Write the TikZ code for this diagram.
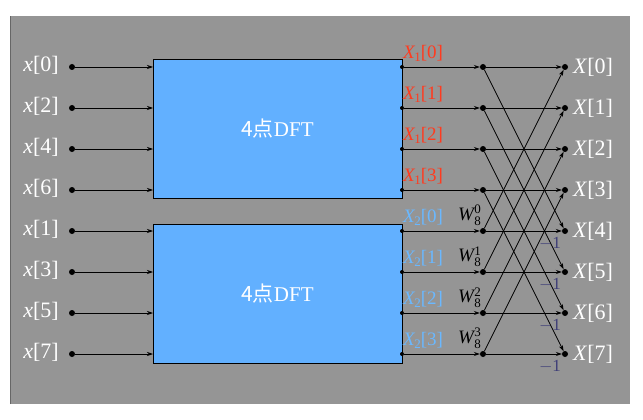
\documentclass[tikz,border=0pt]{standalone}
\usepackage{fontspec}
\setmainfont{Liberation Serif}
\newfontfamily\cjk{Noto Sans CJK SC}
\usetikzlibrary{arrows.meta}
\definecolor{bg}{HTML}{959595}
\definecolor{boxc}{HTML}{62B0FF}
\definecolor{redl}{HTML}{FF3B1F}
\definecolor{bluel}{HTML}{6AB8FF}
\definecolor{negc}{HTML}{3F3F78}
\tikzset{
 dot/.style={circle,fill=black,inner sep=0pt,minimum size=6pt},
 arr/.style={-{Stealth[length=6pt,width=4pt]},line width=0.7pt},
 dft/.style={draw=black,fill=boxc,line width=0.7pt,text=white,font=\fontsize{21}{21}\selectfont},
 inl/.style={text=white,font=\fontsize{22}{22}\selectfont,anchor=east,inner sep=1pt},
 outl/.style={text=white,font=\fontsize{22}{22}\selectfont,anchor=west,inner sep=1pt},
 midl/.style={font=\fontsize{19}{19}\selectfont,anchor=south west,inner sep=1pt},
 wl/.style={font=\fontsize{19}{19}\selectfont,anchor=south east,inner sep=0pt},
 negl/.style={text=negc,font=\fontsize{17}{17}\selectfont},
}
\begin{document}
\begin{tikzpicture}[x=1pt,y=-1pt]
\useasboundingbox (0,0) rectangle (643,420);
\fill[white] (0,0) rectangle (643,420);
\fill[bg] (10,16) rectangle (630,404);
\draw[black!60,line width=0.4pt] (10,404) -- (10,16);
\node[dft,minimum width=249pt,minimum height=139pt] (b1) at (277.5,128.5) {\cjk 4点\rmfamily DFT};
\node[dft,minimum width=249pt,minimum height=139pt] (b2) at (277.5,293.5) {\cjk 4点\rmfamily DFT};
\foreach \lab [count=\i from 0] in {0,2,4,6,1,3,5,7}{
  \pgfmathsetmacro{\yy}{67+41*\i}
  \node[dot] (in\i) at (72,\yy) {};
  \node[inl] at (60,\yy-2) {\textit{x}[\lab]};
  \coordinate (bi\i) at (153,\yy);
  \draw[arr] (in\i) -- (bi\i);
  \node[dot,minimum size=4pt] (bo\i) at (402,\yy) {};
  \node[dot] (m\i) at (483,\yy) {};
  \draw[arr] (bo\i) -- (m\i);
  \node[dot] (o\i) at (565,\yy) {};
  \node[outl] at (572,\yy) {\textit{X}[\i]};
}
\foreach \i in {0,...,3}{
  \node[midl,text=redl] at (402,\fpeval{63+41*\i}) {\textit{X}\kern-1pt\raisebox{-3pt}{\fontsize{13}{13}\selectfont 1}[\i]};
  \node[midl,text=bluel] at (402,\fpeval{227+41*\i}) {\textit{X}\kern-1pt\raisebox{-3pt}{\fontsize{13}{13}\selectfont 2}[\i]};
  \node[wl] at (481,\fpeval{226+41*\i}) {\textit{W}\kern-1pt\raisebox{-5pt}{\fontsize{13}{12}\selectfont\shortstack{\i\\8}}};
  \pgfmathtruncatemacro{\j}{\i+4}
  \draw[arr] (m\i) -- (o\i);
  \draw[arr] (m\i) -- (o\j);
  \draw[arr] (m\j) -- (o\i);
  \draw[arr] (m\j) -- (o\j);
  \node[negl] at (550,\fpeval{244+41*\i}) {$-$1};
}
\end{tikzpicture}
\end{document}
